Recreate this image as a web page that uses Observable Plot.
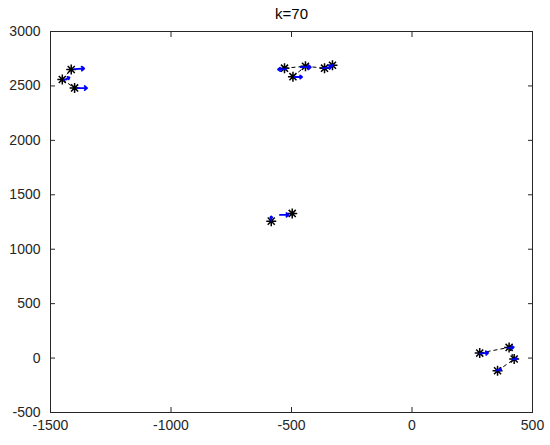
<!DOCTYPE html>
<html>
<head>
<meta charset="utf-8">
<script src="https://cdn.jsdelivr.net/npm/d3@7"></script>
<script src="https://cdn.jsdelivr.net/npm/@observablehq/plot@0.6"></script>
<style>
  html, body { margin: 0; padding: 0; background: #fff; }
</style>
</head>
<body>
<div id="chart"></div>
<script>
// Agent positions (black asterisks)
const agentX = [-1414, -1451, -1400, -529, -494, -442, -363, -330, -584, -497, 281, 403, 355, 424];
const agentY = [2651, 2559, 2482, 2663, 2585, 2681, 2663, 2690, 1258, 1329, 46, 98, -117, -9];

// Velocity arrows (blue): base and components
const arrowX = [-1400, -1445, -1388, -522, -488, -462, -370, -338, -584, -548, 280, 396, 350, 416];
const arrowY = [2655, 2552, 2480, 2655, 2582, 2672, 2662, 2686, 1262, 1315, 40, 92, -114, -12];
const arrowU = [40, 24, 40, -34, 32, 42, 36, 10, 0, 36, 36, 26, 20, 20];
const arrowV = [5, 26, 0, -4, 0, 0, 14, 5, 40, 0, 8, 8, 12, 8];

// Formation edges (dashed), as agent index pairs
const edgeFrom = [1, 1, 3, 4, 5, 10, 12, 11];
const edgeTo   = [0, 2, 5, 5, 6, 11, 13, 13];

const xTicks = [-1500, -1000, -500, 0, 500];
const yTicks = [-500, 0, 500, 1000, 1500, 2000, 2500, 3000];
const title = "k=70";

const agents = agentX.map((x, i) => ({x, y: agentY[i]}));
const arrows = arrowX.map((x, i) => ({x1: x, y1: arrowY[i], x2: x + arrowU[i], y2: arrowY[i] + arrowV[i]}));
const edges = edgeFrom.map((a, i) => ({x1: agentX[a], y1: agentY[a], x2: agentX[edgeTo[i]], y2: agentY[edgeTo[i]]}));

const star8 = {
  draw(context, size) {
    const r = Math.sqrt(size / Math.PI);
    for (let k = 0; k < 4; k++) {
      const a = k * Math.PI / 4;
      const dx = r * Math.cos(a), dy = r * Math.sin(a);
      context.moveTo(-dx, -dy);
      context.lineTo(dx, dy);
    }
  }
};

const fmt = d => String(d);
const axisColor = "#262626";

const chart = Plot.plot({
  width: 550,
  height: 445,
  marginLeft: 50,
  marginRight: 18,
  marginTop: 31,
  marginBottom: 33,
  style: {fontFamily: "'Liberation Sans', Arial, Helvetica, sans-serif", fontSize: "14px", color: axisColor, background: "#fff"},
  x: {domain: [-1500, 500]},
  y: {domain: [-500, 3000]},
  marks: [
    Plot.link(edges, {x1: "x1", y1: "y1", x2: "x2", y2: "y2", stroke: "black", strokeWidth: 1, strokeDasharray: "4,3"}),
    Plot.dot(agents, {x: "x", y: "y", symbol: star8, r: 5, stroke: "black", strokeWidth: 1.5}),
    Plot.arrow(arrows, {x1: "x1", y1: "y1", x2: "x2", y2: "y2", stroke: "#0000ff", strokeWidth: 1.8, headLength: 5, headAngle: 80}),
    Plot.frame({stroke: axisColor, strokeWidth: 1}),
    Plot.axisX(xTicks, {anchor: "bottom", tickSize: -5, tickPadding: 13, tickFormat: fmt, stroke: axisColor, fontSize: 14}),
    Plot.axisX(xTicks, {anchor: "top", tickSize: -5, tickFormat: () => "", stroke: axisColor}),
    Plot.axisY(yTicks, {anchor: "left", tickSize: -5, tickPadding: 15, tickFormat: fmt, stroke: axisColor, fontSize: 14}),
    Plot.axisY(yTicks, {anchor: "right", tickSize: -5, tickFormat: () => "", stroke: axisColor}),
    Plot.text([title], {frameAnchor: "top", dy: -23, fontSize: 15, fill: "#000"})
  ]
});
document.getElementById("chart").appendChild(chart);
</script>
</body>
</html>
